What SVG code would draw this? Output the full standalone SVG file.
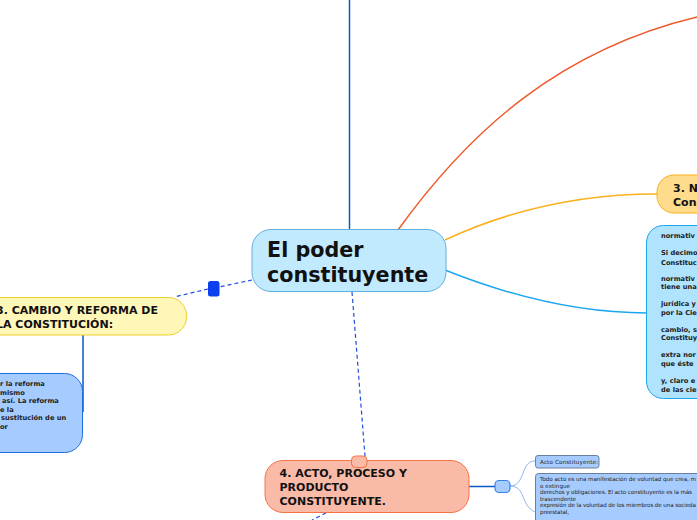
<svg xmlns="http://www.w3.org/2000/svg" width="697" height="520" viewBox="0 0 697 520">
<style>
text{font-family:"DejaVu Sans","Liberation Sans",sans-serif;font-weight:700;fill:#111}
.c{fill:none;stroke-width:1.5}
.d{fill:none;stroke:#1f4fe0;stroke-width:1.2;stroke-dasharray:4 3}
.h1{font-size:11px}
.s{font-size:6.7px;fill:#222}
.t{font-size:5.6px;font-weight:400;fill:#222}
</style>
<rect width="697" height="520" fill="#fff"/>
<g id="connectors">
<path class="c" stroke="#0b57c4" d="M349.500 0V230"/>
<path class="c" stroke="#ee5a2a" d="M398 230C470 130 560 50 697 17"/>
<path class="c" stroke="#fbb01c" d="M445 240C520 205 590 194 657 194"/>
<path class="c" stroke="#1ba6ee" d="M445 270C520 300 590 313 647 313"/>
<path class="d" d="M252 280L219 287M208 289L174 297"/>
<path class="d" d="M352 292L365 456"/>
<path class="d" d="M326 513L312 520"/>
<path class="c" stroke="#0b57c4" d="M83 335V412"/>
<path class="c" stroke="#0b57c4" d="M469 486.500H495"/>
<path fill="none" stroke="#8fb4ee" stroke-width="1" d="M510 486C526 486 520 461 535 461M510 486C526 486 520 505 535 512"/>
</g>
<g id="node-central">
<rect x="252" y="229.500" width="194" height="62" rx="19" fill="#c2eafe" stroke="#62aede" stroke-width="1"/>
<text x="267" y="257" font-size="20.700">El poder</text>
<text x="267" y="282" font-size="20.700">constituyente</text>
</g>
<g id="handle-left"><rect x="208" y="281" width="11.500" height="15.500" rx="2.500" fill="#0a40ef"/></g>
<g id="node-cambio">
<rect x="-40" y="297.500" width="226.500" height="37.500" rx="18" fill="#fff7b8" stroke="#edd02a" stroke-width="1"/>
<text class="h1" x="-4" y="314">3. CAMBIO Y REFORMA DE</text>
<text class="h1" x="-4" y="328">LA CONSTITUCIÓN:</text>
</g>
<g id="node-reforma">
<rect x="-60" y="373.500" width="142.500" height="79" rx="18" fill="#a6ccff" stroke="#1b6ee0" stroke-width="1"/>
<text class="s" x="0" y="385.500">r la reforma</text>
<text class="s" x="0" y="394.500">mismo</text>
<text class="s" x="2" y="403">así. La reforma</text>
<text class="s" x="0" y="411.500">e la</text>
<text class="s" x="1" y="420">sustitución de un</text>
<text class="s" x="0" y="428.500">or</text>
</g>
<g id="node-3n">
<rect x="657" y="175" width="90" height="38" rx="17" fill="#ffdc8c" stroke="#fbb01c" stroke-width="1"/>
<text class="h1" x="673" y="192">3. N</text>
<text class="h1" x="673" y="206">Cons</text>
</g>
<g id="node-normativa">
<rect x="646.500" y="225.500" width="100" height="173" rx="17" fill="#b0e3fd" stroke="#1ba6ee" stroke-width="1"/>
<text class="s" x="661" y="238">normativ</text>
<text class="s" x="661" y="254.500">Si decimo</text>
<text class="s" x="661" y="264.500">Constituc</text>
<text class="s" x="661" y="280.500">normativ</text>
<text class="s" x="661" y="289.300">tiene una</text>
<text class="s" x="661" y="306">jurídica y</text>
<text class="s" x="661" y="315">por la Cie</text>
<text class="s" x="661" y="331.500">cambio, s</text>
<text class="s" x="661" y="340">Constituy</text>
<text class="s" x="661" y="357">extra nor</text>
<text class="s" x="661" y="365.500">que éste</text>
<text class="s" x="661" y="383">y, claro e</text>
<text class="s" x="661" y="391.500">de las cie</text>
</g>
<g id="node-acto">
<rect x="265" y="460.500" width="204" height="52" rx="18" fill="#fabaa8" stroke="#f5744a" stroke-width="1"/>
<text class="h1" x="279.500" y="477">4. ACTO, PROCESO Y</text>
<text class="h1" x="279.500" y="491">PRODUCTO</text>
<text class="h1" x="279.500" y="505">CONSTITUYENTE.</text>
</g>
<g id="handle-acto"><rect x="351.500" y="456" width="15.500" height="11.500" rx="4" fill="#fabaa8" stroke="#f5744a" stroke-width="1"/></g>
<g id="handle-right"><rect x="495" y="480.500" width="15" height="12" rx="4" fill="#a6ccff" stroke="#3b82e8" stroke-width="1.200"/></g>
<g id="node-acto-label">
<rect x="535.500" y="455.500" width="63.500" height="12.500" rx="2.500" fill="#a6ccff" stroke="#6a7f9c" stroke-width="1"/>
<text class="t" x="540" y="464" textLength="58">Acto Constituyente:</text>
</g>
<g id="node-acto-text">
<rect x="535.500" y="473.500" width="200" height="70" rx="3" fill="#a6ccff" stroke="#6a7f9c" stroke-width="1"/>
<text class="t" x="540" y="481" textLength="156">Todo acto es una manifestación de voluntad que crea, m</text>
<text class="t" x="540" y="487.700" textLength="30">o extingue</text>
<text class="t" x="540" y="494.300" textLength="152">derechos y obligaciones. El acto constituyente es la más</text>
<text class="t" x="540" y="501" textLength="36">trascendente</text>
<text class="t" x="540" y="507.300" textLength="156">expresión de la voluntad de los miembros de una socieda</text>
<text class="t" x="540" y="514" textLength="29">preestatal,</text>
</g>
</svg>
